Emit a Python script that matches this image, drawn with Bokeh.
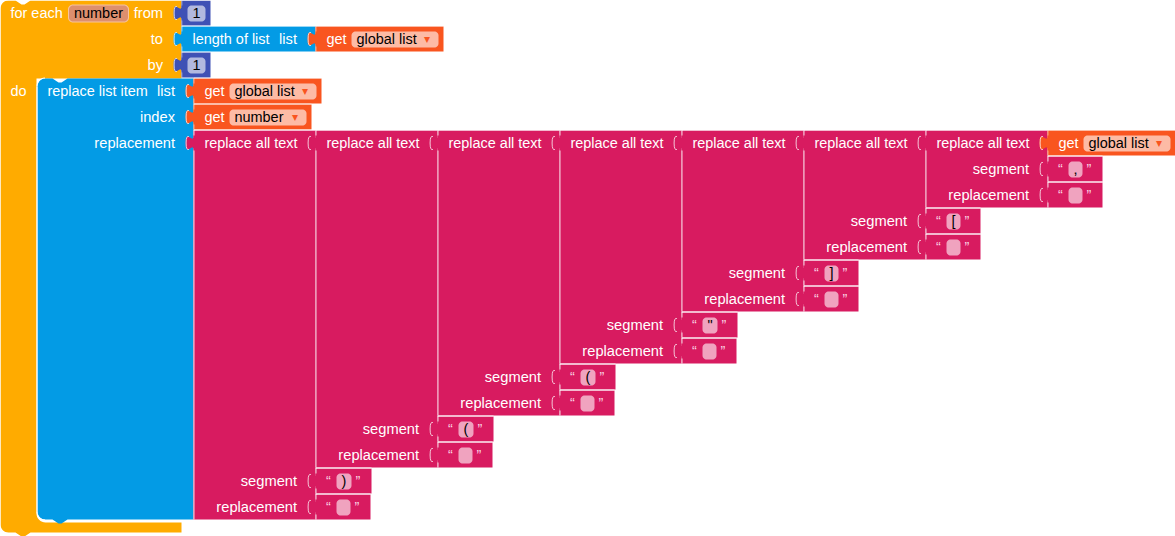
import math
from bokeh.plotting import figure
from bokeh.core.properties import value
from bokeh.models import ColumnDataSource, Range1d
from bokeh.embed import file_html
from bokeh.resources import INLINE

# ---- content -----------------------------------------------------------
loop_labels = ["from", "to", "by"]
loop_variable = "number"
loop_values = ["1", None, "1"]
list_name = "global list"
item_labels = ["list", "index", "replacement"]
item_getters = ["global list", "number"]
segments = [")", "(", "(", '"', "]", "[", ","]      # outermost block first
replacements = ["", "", "", "", "", "", ""]
segment_block_widths = [56, 56, 56, 56, 55, 55, 55]
replacement_block_widths = [55, 55, 55, 55, 55, 55, 55]
getter_block_widths = {"global list": 128, "number": 118}
getter_field_widths = {"global list": 87, "number": 77}

ORANGE, BLUE, PINK, INDIGO, RED = "#FFAB00", "#039BE5", "#D81B60", "#3F51B5", "#F9551F"
FIELD_PINK, FIELD_RED, FIELD_INDIGO, FIELD_VAR = "#F0A3BF", "#FDBBA5", "#B2B9DF", "#DD8F6E"
QUOTE = "#FAD4E2"
ROW = 26
CH = 25
FONT = "Liberation Sans"
SIZE_LEFT = "14.45px"
SIZE_RIGHT = "14.67px"

polys = dict(xs=[], ys=[], color=[])
lines = dict(xs=[], ys=[], color=[], alpha=[])
texts = dict(x=[], y=[], text=[], color=[], align=[], size=[])
arrows = dict(x=[], y=[], text=[])


def bez(p0, p1, p2, p3, n=10):
    out = []
    for k in range(1, n + 1):
        t = k / n
        a, b, c, d = (1 - t) ** 3, 3 * t * (1 - t) ** 2, 3 * t * t * (1 - t), t ** 3
        out.append((a * p0[0] + b * p1[0] + c * p2[0] + d * p3[0],
                    a * p0[1] + b * p1[1] + c * p2[1] + d * p3[1]))
    return out


def tab(x, y):
    pts = bez((x, y), (x, y + 10), (x - 8, y - 8), (x - 8, y + 7.5))
    pts += bez((x - 8, y + 7.5), (x - 8, y + 23), (x, y + 5), (x, y + 15))
    return pts


def arc(cx, cy, r, a0, a1, n=8):
    return [(cx + r * math.cos(math.radians(a0 + (a1 - a0) * k / n)),
             cy + r * math.sin(math.radians(a0 + (a1 - a0) * k / n))) for k in range(n + 1)]


def poly(pts, color):
    polys["xs"].append([q[0] for q in pts])
    polys["ys"].append([q[1] for q in pts])
    polys["color"].append(color)


def line(pts, color="#FFFFFF", alpha=0.8):
    lines["xs"].append([q[0] for q in pts])
    lines["ys"].append([q[1] for q in pts])
    lines["color"].append(color)
    lines["alpha"].append(alpha)


def label(x, row_top, s, color="#FFFFFF", align="left"):
    texts["x"].append(x - (0.5 if align == "right" else 0))
    texts["y"].append(row_top + 12)
    texts["text"].append(s)
    texts["color"].append(color)
    texts["align"].append(align)
    texts["size"].append(SIZE_RIGHT if align == "right" else SIZE_LEFT)


def field(x0, y0, w, color, r=4, h=16):
    x1, y1 = x0 + w, y0 + h
    poly(arc(x0 + r, y0 + r, r, 180, 270) + arc(x1 - r, y0 + r, r, 270, 360) +
         arc(x1 - r, y1 - r, r, 0, 90) + arc(x0 + r, y1 - r, r, 90, 180), color)


def value_block(x0, y0, x1, y1, color, alpha=0.8):
    t = tab(x0, y0 + 5)
    poly([(x0, y0), (x1, y0), (x1, y1), (x0, y1)] + t[::-1], color)
    line([(x0 + .5, y1), (x0 + .5, y0 + 20)], alpha=alpha)
    line([(x0 + .5, y0 + 5), (x0 + .5, y0 - .5), (x1, y0 - .5)], alpha=alpha)
    line([(q[0] + .6, q[1]) for q in t if q[0] < x0 - 5], alpha=0.75)


def getter(x0, row_top, name):
    w = getter_block_widths[name]
    value_block(x0, row_top, x0 + w, row_top + CH, RED, alpha=0.45)
    label(x0 + 11, row_top, "get")
    fw = getter_field_widths[name]
    field(x0 + 36, row_top + 5, fw, FIELD_RED)
    label(x0 + 41, row_top, name, "#000000")
    arrows["x"].append(x0 + 36 + fw - 12)
    arrows["y"].append(row_top + 12)
    arrows["text"].append("▾")


def number_block(x0, row_top, s):
    value_block(x0, row_top, x0 + 29, row_top + CH, INDIGO, alpha=0.35)
    field(x0 + 6, row_top + 5, 18, FIELD_INDIGO)
    label(x0 + 15, row_top, s, "#000000", "center")


# ---- for-each block ------------------------------------------------------
right = 181
first_row_y = 3 * ROW
inner_top = first_row_y
inner_bottom = 20 * ROW
notch = [(15, 0), (21, 4), (24, 4), (30, 0)]
bar_top = inner_bottom + 2
bar_bottom = bar_top + 10
outer = arc(8, 8, 8, 180, 270) + notch + [(right, 0), (right, inner_top), (36, inner_top)]
outer += arc(45, bar_top - 9, 9, 180, 90) + [(right, bar_top), (right, bar_bottom)]
outer += [(30, bar_bottom), (24, bar_bottom + 4), (21, bar_bottom + 4), (15, bar_bottom)]
outer += arc(8, bar_bottom - 8, 8, 90, 180)
poly(outer, ORANGE)

label(10, 0, "for each")
field(67.5, 4, 61, "#F8C49C", r=5, h=18)
field(68.5, 5, 59, FIELD_VAR)
label(98, 0, loop_variable, "#000000", "center")
for k, s in enumerate(loop_labels):
    label(right - 18, k * ROW, s, align="right")
label(10, first_row_y, "do")

number_block(right, 0, loop_values[0])
number_block(right, 2 * ROW, loop_values[2])

# length of list
value_block(right, ROW, 315, ROW + CH, BLUE, alpha=0.45)
label(192, ROW, "length of list")
label(297, ROW, "list", align="right")
getter(315, ROW, list_name)

# ---- replace list item block ---------------------------------------------
bx0, bx1 = 37, 193
r = 8
blue = arc(bx0 + r, inner_top + r, r, 180, 270)
blue += [(bx0 + 15, inner_top), (bx0 + 21, inner_top + 4), (bx0 + 24, inner_top + 4), (bx0 + 30, inner_top)]
blue += [(bx1, inner_top), (bx1, inner_bottom - 1)]
blue += [(bx0 + 30, inner_bottom - 1), (bx0 + 24, inner_bottom + 3), (bx0 + 21, inner_bottom + 3), (bx0 + 15, inner_bottom - 1)]
blue += arc(bx0 + r, inner_bottom - 1 - r, r, 90, 180)
poly(blue, BLUE)
line([(q[0] - .5, q[1] - .5) for q in arc(bx0 + r, inner_top + r, r, 180, 270)], alpha=0.9)
line([(bx0 - .5, inner_top + r), (bx0 - .5, inner_bottom - r)], alpha=0.9)
line([(q[0] - .5, q[1] + .5) for q in arc(bx0 + r, inner_bottom - 1 - r, r, 90, 180)], alpha=0.9)
label(47, first_row_y, "replace list item")
for k, s in enumerate(item_labels):
    label(bx1 - 18, first_row_y + k * ROW, s, align="right")
for k, name in enumerate(item_getters):
    getter(bx1, first_row_y + k * ROW, name)

# ---- nested replace all text blocks ---------------------------------------
col0, col_w = 193, 122
pink_top = first_row_y + 2 * ROW
n = len(segments)
for i in range(n):
    x0 = col0 + i * col_w
    x1 = x0 + col_w
    bottom = inner_bottom - i * 2 * ROW
    value_block(x0, pink_top, x1, bottom - 1, PINK)
for i in range(n):
    x0 = col0 + i * col_w
    x1 = x0 + col_w
    bottom = inner_bottom - i * 2 * ROW
    label(x0 + 11, pink_top, "replace all text")
    for row_top, lab, s, w in ((bottom - 2 * ROW, "segment", segments[i], segment_block_widths[i]),
                               (bottom - ROW, "replacement", replacements[i], replacement_block_widths[i])):
        label(x1 - 18, row_top, lab, align="right")
        value_block(x1, row_top, x1 + w, row_top + CH, PINK)
        label(x1 + 10.5, row_top, "\u201c", QUOTE)
        fw = w - 41
        field(x1 + 21, row_top + 5, fw, FIELD_PINK)
        if s:
            label(x1 + 21 + fw / 2, row_top, s, "#000000", "center")
        label(x1 + 21 + fw + 4, row_top, "\u201d", QUOTE)
getter(col0 + n * col_w, pink_top, list_name)

# ---- draw -----------------------------------------------------------------
p = figure(width=1175, height=536, output_backend="svg", toolbar_location=None,
           x_range=Range1d(0, 1175), y_range=Range1d(536, 0), min_border=0,
           background_fill_color="#FFFFFF", border_fill_color="#FFFFFF")
p.axis.visible = False
p.grid.visible = False
p.outline_line_color = None
p.styles = {"position": "absolute", "left": "0px", "top": "0px"}

p.patches("xs", "ys", source=ColumnDataSource(polys), fill_color="color", line_color=None)
p.multi_line("xs", "ys", source=ColumnDataSource(lines), line_color="color", line_alpha="alpha", line_width=1)
p.text("x", "y", text="text", source=ColumnDataSource(texts), text_color="color", text_align="align",
       text_baseline="middle", text_font=value(FONT), text_font_size="size")
p.text("x", "y", text="text", source=ColumnDataSource(arrows), text_color=RED, text_align="center",
       text_baseline="middle", text_font=value(FONT), text_font_size="12px")

open("out.html", "w").write(file_html(p, INLINE))
